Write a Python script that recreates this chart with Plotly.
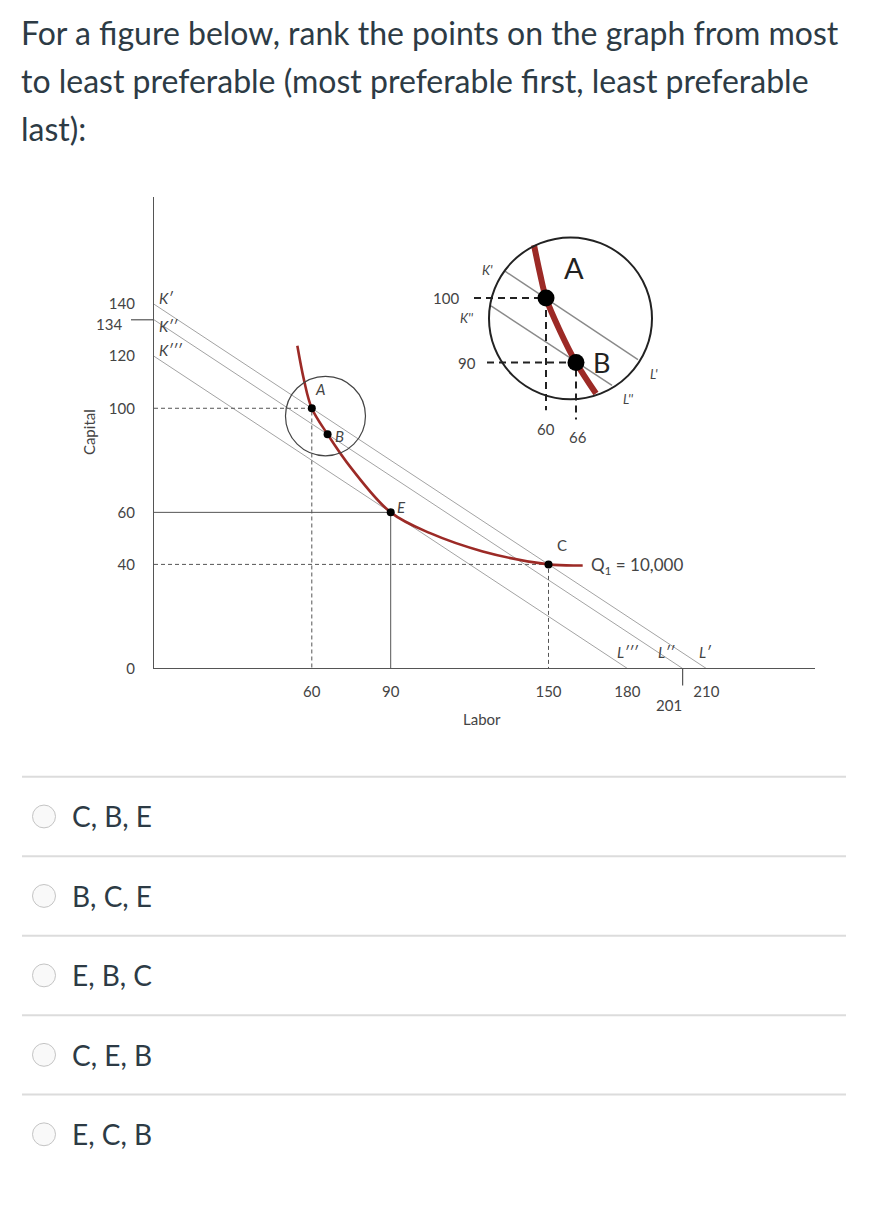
import plotly.graph_objects as go

# page body has an 8px margin; keep the page no taller than the 876x1212 window
OFF = 8
W, H = 876 - 2 * OFF, 1180

# ---------------- data ----------------
question_lines = [
    "For a figure below, rank the points on the graph from most",
    "to least preferable (most preferable first, least preferable",
    "last):",
]
options = ["C, B, E", "B, C, E", "E, B, C", "C, E, B", "E, C, B"]

isocost_names = ["K′", "K′′", "K′′′"]
isocost_end_names = ["L′", "L′′", "L′′′"]
isocost_k = [140, 134, 120]
isocost_l = [210, 201, 180]

isoquant_L = [54.5, 57, 60, 66, 75, 90, 105, 125, 150, 163]
isoquant_K = [124, 111, 100, 90, 77, 60, 52, 45, 40, 39.6]

point_names = ["A", "B", "E", "C"]
point_L = [60, 66, 90, 150]
point_K = [100, 90, 60, 40]

x_ticks = [60, 90, 150, 180, 210]
y_ticks = [0, 40, 60, 100, 120, 140]
y_extra_tick = 134
x_extra_tick = 201

# inset (magnified view of A and B)
inset_names = ["A", "B"]
inset_L = [60, 66]
inset_K = [100, 90]
inset_curve_L = [57.6, 58.8, 60, 62.8, 66, 70]
inset_curve_K = [108.2, 103.8, 100, 94.9, 90, 85.2]
inset_line1_L = [51.8, 78.4]   # K' - L'
inset_line1_K = [104.15, 90.46]
inset_line2_L = [49.0, 73.2]   # K'' - L''
inset_line2_K = [98.77, 86.46]

# ---------------- helpers ----------------
def fx(p):
    return (p - OFF) / W

def fy(p):
    return 1 - (p - OFF) / H

TXT = "#2d3b45"
AX = "#555555"
GRAY = "#a3a3a3"
RED = "#9c2a26"
FONT = "Lato"

fig = go.Figure()

# main axes mapping: L=0 at px 154, 2.63 px/unit ; K=0 at py 673, 2.62 px/unit
x_range = [0, (815 - 154) / 2.63]
y_range = [0, (673 - 198) / 2.62]

# isocost lines
for k, l in zip(isocost_k, isocost_l):
    fig.add_trace(go.Scatter(x=[0, l], y=[k, 0], mode="lines",
                             line=dict(color=GRAY, width=1), hoverinfo="skip",
                             showlegend=False, xaxis="x", yaxis="y"))

# reference lines to points
for name, l, k in zip(point_names, point_L, point_K):
    if name in ("A", "C"):
        dash = "4px,3px"
    elif name == "E":
        dash = "solid"
    else:
        continue
    fig.add_trace(go.Scatter(x=[0, l, l], y=[k, k, 0], mode="lines",
                             line=dict(color=AX, width=1, dash=dash),
                             hoverinfo="skip", showlegend=False,
                             xaxis="x", yaxis="y"))

# isoquant
fig.add_trace(go.Scatter(x=isoquant_L, y=isoquant_K, mode="lines",
                         line=dict(color=RED, width=2.6, shape="spline", smoothing=1.0),
                         hoverinfo="skip", showlegend=False, xaxis="x", yaxis="y"))

# points
fig.add_trace(go.Scatter(x=point_L, y=point_K, mode="markers",
                         marker=dict(color="black", size=8),
                         hoverinfo="skip", showlegend=False, xaxis="x", yaxis="y"))

# ---------------- inset ----------------
# inset mapping: L=60 at px 546, 5 px/unit ; K=100 at py 300, 6.5 px/unit
ix0, ix1 = 430, 680
iy0, iy1 = 230, 450
x2_range = [60 + (ix0 - 546) / 5, 60 + (ix1 - 546) / 5]
y2_range = [100 - (iy1 - 300) / 6.5, 100 + (300 - iy0) / 6.5]

for lx, ky in ((inset_line1_L, inset_line1_K), (inset_line2_L, inset_line2_K)):
    fig.add_trace(go.Scatter(x=lx, y=ky, mode="lines",
                             line=dict(color="#8a8a8a", width=1.5),
                             hoverinfo="skip", showlegend=False,
                             xaxis="x2", yaxis="y2"))

# dashed guides in inset
dash_left = [45.6, 48.2]
dash_bottom = [82.6, 81.2]
for l, k, xl, yb in zip(inset_L, inset_K, dash_left, dash_bottom):
    fig.add_trace(go.Scatter(x=[xl, l, l], y=[k, k, yb], mode="lines",
                             line=dict(color="#222222", width=2, dash="7px,5px"),
                             hoverinfo="skip", showlegend=False,
                             xaxis="x2", yaxis="y2"))

fig.add_trace(go.Scatter(x=inset_curve_L, y=inset_curve_K, mode="lines",
                         line=dict(color=RED, width=6, shape="spline"),
                         hoverinfo="skip", showlegend=False,
                         xaxis="x2", yaxis="y2"))
fig.add_trace(go.Scatter(x=inset_L, y=inset_K, mode="markers",
                         marker=dict(color="black", size=17),
                         hoverinfo="skip", showlegend=False,
                         xaxis="x2", yaxis="y2"))

shapes = []
annotations = []

# inset circle (center px 570.5, 320.5, radius 81.5)
cxL = 60 + (570.5 - 546) / 5
cyK = 100 - (320.5 - 300) / 6.5
shapes.append(dict(type="circle", xref="x2", yref="y2",
                   x0=cxL - 81.5 / 5, x1=cxL + 81.5 / 5,
                   y0=cyK - 81.5 / 6.5, y1=cyK + 81.5 / 6.5,
                   line=dict(color="#222222", width=2)))

# main small circle around A, B
ccL, ccK, rr = 65.2, 97.0, 40
shapes.append(dict(type="circle", xref="x", yref="y",
                   x0=ccL - rr / 2.63, x1=ccL + rr / 2.63,
                   y0=ccK - rr / 2.62, y1=ccK + rr / 2.62,
                   line=dict(color="#444444", width=1.2)))

# tick for 134 on y axis and 201 on x axis
shapes.append(dict(type="line", xref="paper", yref="y",
                   x0=fx(131), x1=fx(153), y0=y_extra_tick, y1=y_extra_tick,
                   line=dict(color=AX, width=1.2)))
shapes.append(dict(type="line", xref="x", yref="paper",
                   x0=x_extra_tick, x1=x_extra_tick, y0=fy(673), y1=fy(690),
                   line=dict(color=AX, width=1.2)))

# separators and radio buttons
sep_y = [782, 862, 942, 1022, 1102]
for i, (sy, opt) in enumerate(zip(sep_y, options)):
    shapes.append(dict(type="line", xref="paper", yref="paper",
                       x0=fx(22), x1=fx(846), y0=fy(sy), y1=fy(sy),
                       line=dict(color="#dcdcdc", width=2)))
    cy = sy + 40
    shapes.append(dict(type="circle", xref="paper", yref="paper",
                       x0=fx(32.5), x1=fx(55.5), y0=fy(cy + 11.5), y1=fy(cy - 11.5),
                       fillcolor="#f9f9f9", line=dict(color="#c4c4c4", width=1)))
    annotations.append(dict(text=opt, xref="paper", yref="paper",
                            x=fx(70), y=fy(cy), xanchor="left", yanchor="middle",
                            showarrow=False, font=dict(family=FONT, size=28, color=TXT)))

# question text
for i, line in enumerate(question_lines):
    annotations.append(dict(text=line, xref="paper", yref="paper",
                            x=fx(19), y=fy(33 + 48 * i), xanchor="left", yanchor="middle",
                            showarrow=False, font=dict(family=FONT, size=32, color=TXT)))

LBL = dict(family=FONT, size=15, color="#444444")
LBL_I = dict(family=FONT, size=15, color="#444444")

annotations.append(dict(text=str(y_extra_tick), xref="paper", yref="y", x=fx(124),
                        y=y_extra_tick, yshift=-4, xanchor="right", yanchor="middle",
                        showarrow=False, font=LBL))

# main-graph labels
main_label_pos = {"A": (63, 107.5, True), "B": (70.5, 89.5, True),
                  "E": (94, 62, True), "C": (155, 47.5, False)}
for name in point_names:
    lx, ky, it = main_label_pos[name]
    txt = f"<i>{name}</i>" if it else name
    annotations.append(dict(text=txt, xref="x", yref="y", x=lx, y=ky,
                            showarrow=False, font=LBL))

annotations.append(dict(text="Q<sub>1</sub> = 10,000", xref="x", yref="y",
                        x=165.5, y=39.5, xanchor="left", showarrow=False,
                        font=dict(family=FONT, size=17, color="#444444")))

k_label_y = [142.5, 131.5, 122.5]
for name, ky in zip(isocost_names, k_label_y):
    annotations.append(dict(text=f"<i>{name}</i>", xref="x", yref="y", x=1.3, y=ky,
                            xanchor="left", showarrow=False, font=LBL_I))
l_label_x = [209.5, 195, 180]
for name, lx in zip(isocost_end_names, l_label_x):
    annotations.append(dict(text=f"<i>{name}</i>", xref="x", yref="y", x=lx, y=6.2,
                            showarrow=False, font=LBL_I))

annotations.append(dict(text=str(x_extra_tick), xref="x", yref="paper", x=196, y=fy(710),
                        xanchor="center", yanchor="middle", showarrow=False, font=LBL))
annotations.append(dict(text="Labor", xref="paper", yref="paper", x=fx(482), y=fy(724),
                        xanchor="center", yanchor="middle", showarrow=False, font=LBL))
annotations.append(dict(text="Capital", xref="paper", yref="paper", x=fx(89), y=fy(435),
                        xanchor="center", yanchor="middle",
                        textangle=-90, showarrow=False, font=LBL))

# inset labels
def ipx(px):
    return 60 + (px - 546) / 5

def ipy(py):
    return 100 - (py - 300) / 6.5

annotations += [
    dict(text="100", xref="x2", yref="y2", x=ipx(461), y=100, xanchor="right",
         showarrow=False, font=LBL),
    dict(text="90", xref="x2", yref="y2", x=ipx(478), y=90, xanchor="right",
         showarrow=False, font=LBL),
    dict(text="<i>K'</i>", xref="x2", yref="y2", x=ipx(487), y=ipy(272),
         showarrow=False, font=dict(family=FONT, size=13, color="#444444")),
    dict(text="<i>K''</i>", xref="x2", yref="y2", x=ipx(467), y=ipy(320),
         showarrow=False, font=dict(family=FONT, size=13, color="#444444")),
    dict(text="A", xref="x2", yref="y2", x=ipx(574), y=ipy(269),
         showarrow=False, font=dict(family=FONT, size=29, color="#222222")),
    dict(text="B", xref="x2", yref="y2", x=ipx(601), y=ipy(365),
         showarrow=False, font=dict(family=FONT, size=27, color="#222222")),
    dict(text="<i>L'</i>", xref="x2", yref="y2", x=ipx(654), y=ipy(377),
         showarrow=False, font=dict(family=FONT, size=13, color="#444444")),
    dict(text="<i>L''</i>", xref="x2", yref="y2", x=ipx(628), y=ipy(402),
         showarrow=False, font=dict(family=FONT, size=13, color="#444444")),
    dict(text="60", xref="x2", yref="y2", x=60, y=ipy(432),
         showarrow=False, font=LBL),
    dict(text="66", xref="x2", yref="y2", x=ipx(578), y=ipy(440),
         showarrow=False, font=LBL),
]

fig.update_layout(
    width=W, height=H, margin=dict(l=0, r=0, t=0, b=0),
    paper_bgcolor="white", plot_bgcolor="rgba(0,0,0,0)",
    showlegend=False,
    xaxis=dict(domain=[fx(154), fx(815)], range=x_range, showgrid=False, zeroline=False,
               showline=True, linecolor=AX, linewidth=1.2,
               tickvals=x_ticks, ticks="", ticklabelstandoff=9,
               tickfont=dict(family=FONT, size=15, color="#444444"), fixedrange=True),
    yaxis=dict(domain=[fy(673), fy(198)], range=y_range, showgrid=False, zeroline=False,
               showline=True, linecolor=AX, linewidth=1.2,
               tickvals=y_ticks, ticks="", ticklabelstandoff=15,
               tickfont=dict(family=FONT, size=15, color="#444444"), fixedrange=True),
    xaxis2=dict(domain=[fx(ix0), fx(ix1)], range=x2_range, visible=False,
                anchor="y2", fixedrange=True),
    yaxis2=dict(domain=[fy(iy1), fy(iy0)], range=y2_range, visible=False,
                anchor="x2", fixedrange=True),
    shapes=shapes, annotations=annotations,
)

fig.write_html("out.html")
